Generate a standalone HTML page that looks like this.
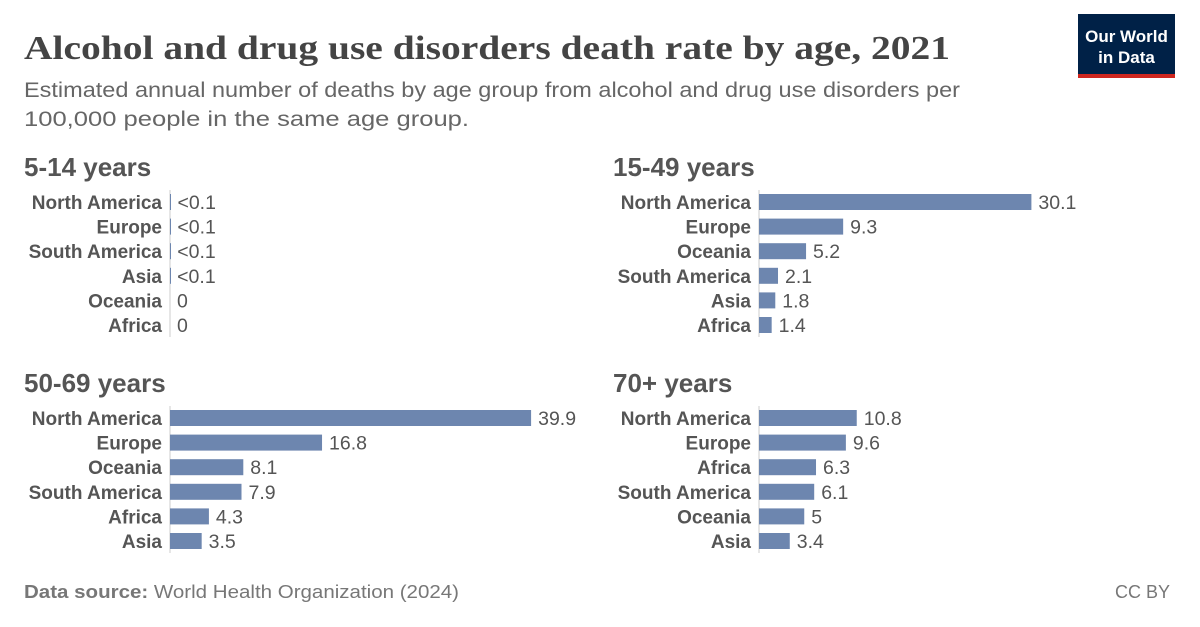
<!DOCTYPE html>
<html><head><meta charset="utf-8"><style>
html,body{margin:0;padding:0;background:#fff}
svg{display:block}
</style></head><body>
<svg id="c" width="1200" height="627" xmlns="http://www.w3.org/2000/svg" font-family="Liberation Sans, sans-serif">
<text x="24" y="59" style="font-family:'Liberation Serif',serif;font-weight:bold" font-size="34" fill="#444" textLength="926" lengthAdjust="spacingAndGlyphs">Alcohol and drug use disorders death rate by age, 2021</text>
<text x="24" y="97" font-size="21" fill="#666" textLength="936" lengthAdjust="spacingAndGlyphs">Estimated annual number of deaths by age group from alcohol and drug use disorders per</text>
<text x="24" y="126" font-size="21" fill="#666" textLength="445" lengthAdjust="spacingAndGlyphs">100,000 people in the same age group.</text>
<g>
<rect x="1078" y="14" width="97" height="64" fill="#002147"/>
<rect x="1078" y="74" width="97" height="4" fill="#ce261e"/>
<text x="1126.5" y="42" text-anchor="middle" font-size="17" font-weight="bold" fill="#fff">Our World</text>
<text x="1126.5" y="63" text-anchor="middle" font-size="17" font-weight="bold" fill="#fff">in Data</text>
</g>
<text x="24" y="598" font-size="18" fill="#777" textLength="435" lengthAdjust="spacingAndGlyphs"><tspan font-weight="bold">Data source:</tspan> World Health Organization (2024)</text>
<text x="1170" y="598" text-anchor="end" font-size="18" fill="#777">CC BY</text>
<g id="panels"></g>
</svg>
<script>
const titles=["5-14 years","15-49 years","50-69 years","70+ years"];
const cats0=["North America","Europe","South America","Asia","Oceania","Africa"];
const vals0=[0.05,0.04,0.03,0.02,0,0];
const labs0=["<0.1","<0.1","<0.1","<0.1","0","0"];
const cats1=["North America","Europe","Oceania","South America","Asia","Africa"];
const vals1=[30.1,9.3,5.2,2.1,1.8,1.4];
const cats2=["North America","Europe","Oceania","South America","Africa","Asia"];
const vals2=[39.9,16.8,8.1,7.9,4.3,3.5];
const cats3=["North America","Europe","Africa","South America","Oceania","Asia"];
const vals3=[10.8,9.6,6.3,6.1,5,3.4];
const panels=[
 {cats:cats0,vals:vals0,labs:labs0,ax:170,ty:176,y0:202},
 {cats:cats1,vals:vals1,labs:null,ax:759,ty:176,y0:202},
 {cats:cats2,vals:vals2,labs:null,ax:170,ty:392,y0:418},
 {cats:cats3,vals:vals3,labs:null,ax:759,ty:392,y0:418}];
const scale=v=>v*9.05;
const NS="http://www.w3.org/2000/svg";
const root=document.getElementById('panels');
function mk(tag,attrs,parent){const e=document.createElementNS(NS,tag);for(const k in attrs)e.setAttribute(k,attrs[k]);parent.appendChild(e);return e;}
panels.forEach((p,i)=>{
 const g=mk('g',{},root);
 
 
 const t=mk('text',{x:p.ax-146,y:p.ty,'font-size':26,'font-weight':'bold',fill:'#555'},g);t.textContent=titles[i];
 
 
 const step=24.6;
 const ln=mk('line',{x1:p.ax,x2:p.ax,y1:p.y0-12,y2:p.y0+5*step+12,stroke:'#ccc','stroke-width':1},g);
 
 
 p.cats.forEach((c,j)=>{
  const y=p.y0+j*step;
  const l=mk('text',{x:p.ax-8,y:y+7,'text-anchor':'end','font-size':19,'font-weight':'bold',fill:'#555'},g);l.textContent=c;
  
  
  const w=scale(p.vals[j]);
  const b=mk('rect',{x:p.ax,y:y-8,width:Math.max(w,p.vals[j]>0?1:0),height:16,fill:'#6d86af'},g);
  
  
  const v=mk('text',{x:p.ax+Math.max(w,0)+7,y:y+7,'font-size':19.5,fill:'#555'},g);
  v.textContent=p.labs?p.labs[j]:String(p.vals[j]);
  
  
 });
});
</script>
</body></html>
